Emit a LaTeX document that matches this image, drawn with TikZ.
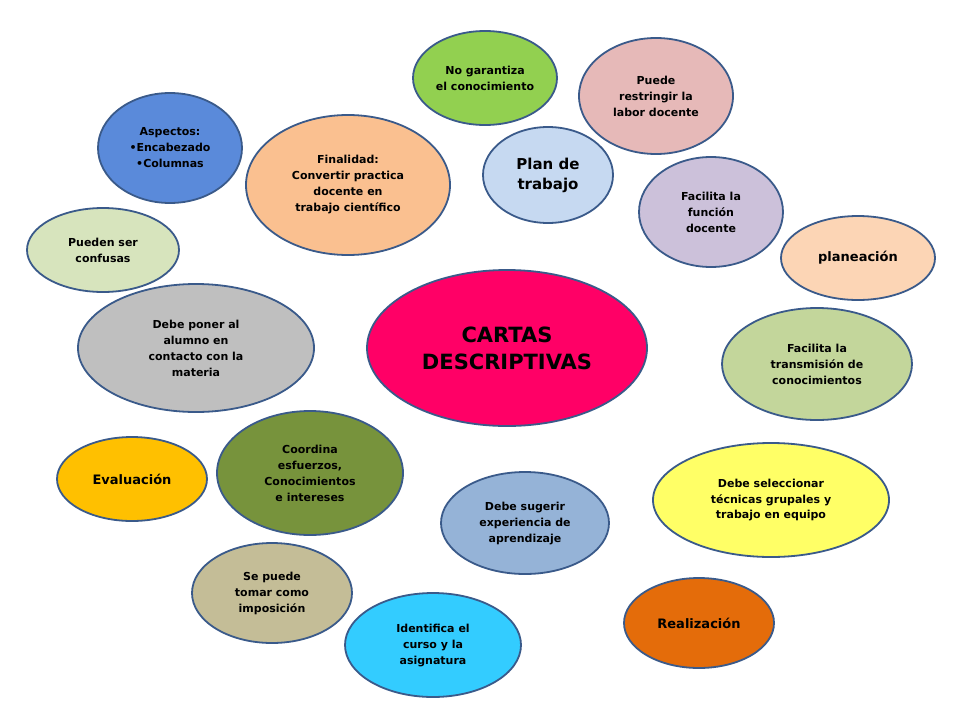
\documentclass[tikz,border=0pt]{standalone}
\usepackage{fontspec}
\setmainfont{DejaVu Sans}
\usetikzlibrary{arrows.meta,shapes.geometric,backgrounds}
\begin{document}
\begin{tikzpicture}[x=1pt,y=-1pt,
  bub/.style={ellipse,draw=edgeC,line width=1.8pt,inner sep=0pt,align=center,font=\fontsize{11}{16}\selectfont\bfseries},
  arr/.style={draw=magenta!80!violet,densely dashed,line width=0.6pt,-{Straight Barb[length=6pt,width=9pt]},shorten >=4pt}]
\definecolor{edgeC}{HTML}{3A5A8A}
\fill[white] (0,0) rectangle (960,720);
\useasboundingbox (0,0) rectangle (960,720);
\tikzset{el/.style n args={3}{bub,minimum width=#1,minimum height=#2,fill=#3}}
\definecolor{cA}{HTML}{5A8ADA}\definecolor{cB}{HTML}{FAC090}\definecolor{cC}{HTML}{92D050}
\definecolor{cD}{HTML}{E6B9B8}\definecolor{cE}{HTML}{C6D9F1}\definecolor{cF}{HTML}{CCC1DA}
\definecolor{cG}{HTML}{FCD5B5}\definecolor{cH}{HTML}{D7E4BD}\definecolor{cI}{HTML}{BFBFBF}
\definecolor{cJ}{HTML}{C3D69B}\definecolor{cK}{HTML}{FFC000}\definecolor{cL}{HTML}{77933C}
\definecolor{cM}{HTML}{95B3D7}\definecolor{cN}{HTML}{FFFF66}\definecolor{cO}{HTML}{C4BD97}
\definecolor{cP}{HTML}{33CCFF}\definecolor{cQ}{HTML}{E46C0A}\definecolor{cZ}{HTML}{FF0066}
\node[el={144}{110}{cA}] (a) at (170,148) {Aspectos:\\•Encabezado\\•Columnas};
\node[el={204}{140}{cB}] (b) at (348,185) {Finalidad:\\Convertir practica\\docente en\\trabajo científico};
\node[el={144}{94}{cC}] (cc) at (485,78) {No garantiza\\el conocimiento};
\node[el={154}{116}{cD}] (d) at (656,96) {Puede\\restringir la\\labor docente};
\node[el={130}{96}{cE},font=\fontsize{15}{20}\selectfont\bfseries] (e) at (548,175) {Plan de\\trabajo};
\node[el={144}{110}{cF}] (f) at (711,212) {Facilita la\\función\\docente};
\node[el={154}{84}{cG},font=\fontsize{13}{16}\selectfont\bfseries] (g) at (858,258) {planeación};
\node[el={152}{84}{cH}] (h) at (103,250) {Pueden ser\\confusas};
\node[el={236}{128}{cI}] (i) at (196,348) {Debe poner al\\alumno en\\contacto con la\\materia};
\node[el={190}{112}{cJ}] (j) at (817,364) {Facilita la\\transmisión de\\conocimientos};
\node[el={150}{84}{cK},font=\fontsize{13}{16}\selectfont\bfseries] (k) at (132,479) {Evaluación};
\node[el={186}{124}{cL}] (l) at (310,473) {Coordina\\esfuerzos,\\Conocimientos\\e intereses};
\node[el={168}{102}{cM}] (m) at (525,523) {Debe sugerir\\experiencia de\\aprendizaje};
\node[el={236}{114}{cN}] (n) at (771,500) {Debe seleccionar\\técnicas grupales y\\trabajo en equipo};
\node[el={160}{100}{cO}] (o) at (272,593) {Se puede\\tomar como\\imposición};
\node[el={176}{104}{cP}] (p) at (433,645) {Identifica el\\curso y la\\asignatura};
\node[el={150}{90}{cQ},font=\fontsize{13}{16}\selectfont\bfseries] (q) at (699,623) {Realización};
\node[el={280}{156}{cZ},font=\fontsize{21}{27}\selectfont\bfseries] (c) at (507,348) {CARTAS\\DESCRIPTIVAS};
\begin{scope}[on background layer]
\foreach \t in {a,b,cc,d,e,f,g,h,i,j,k,l,m,n,o,p,q}
  \draw[arr] (c) -- (\t);
\end{scope}
\end{tikzpicture}
\end{document}
